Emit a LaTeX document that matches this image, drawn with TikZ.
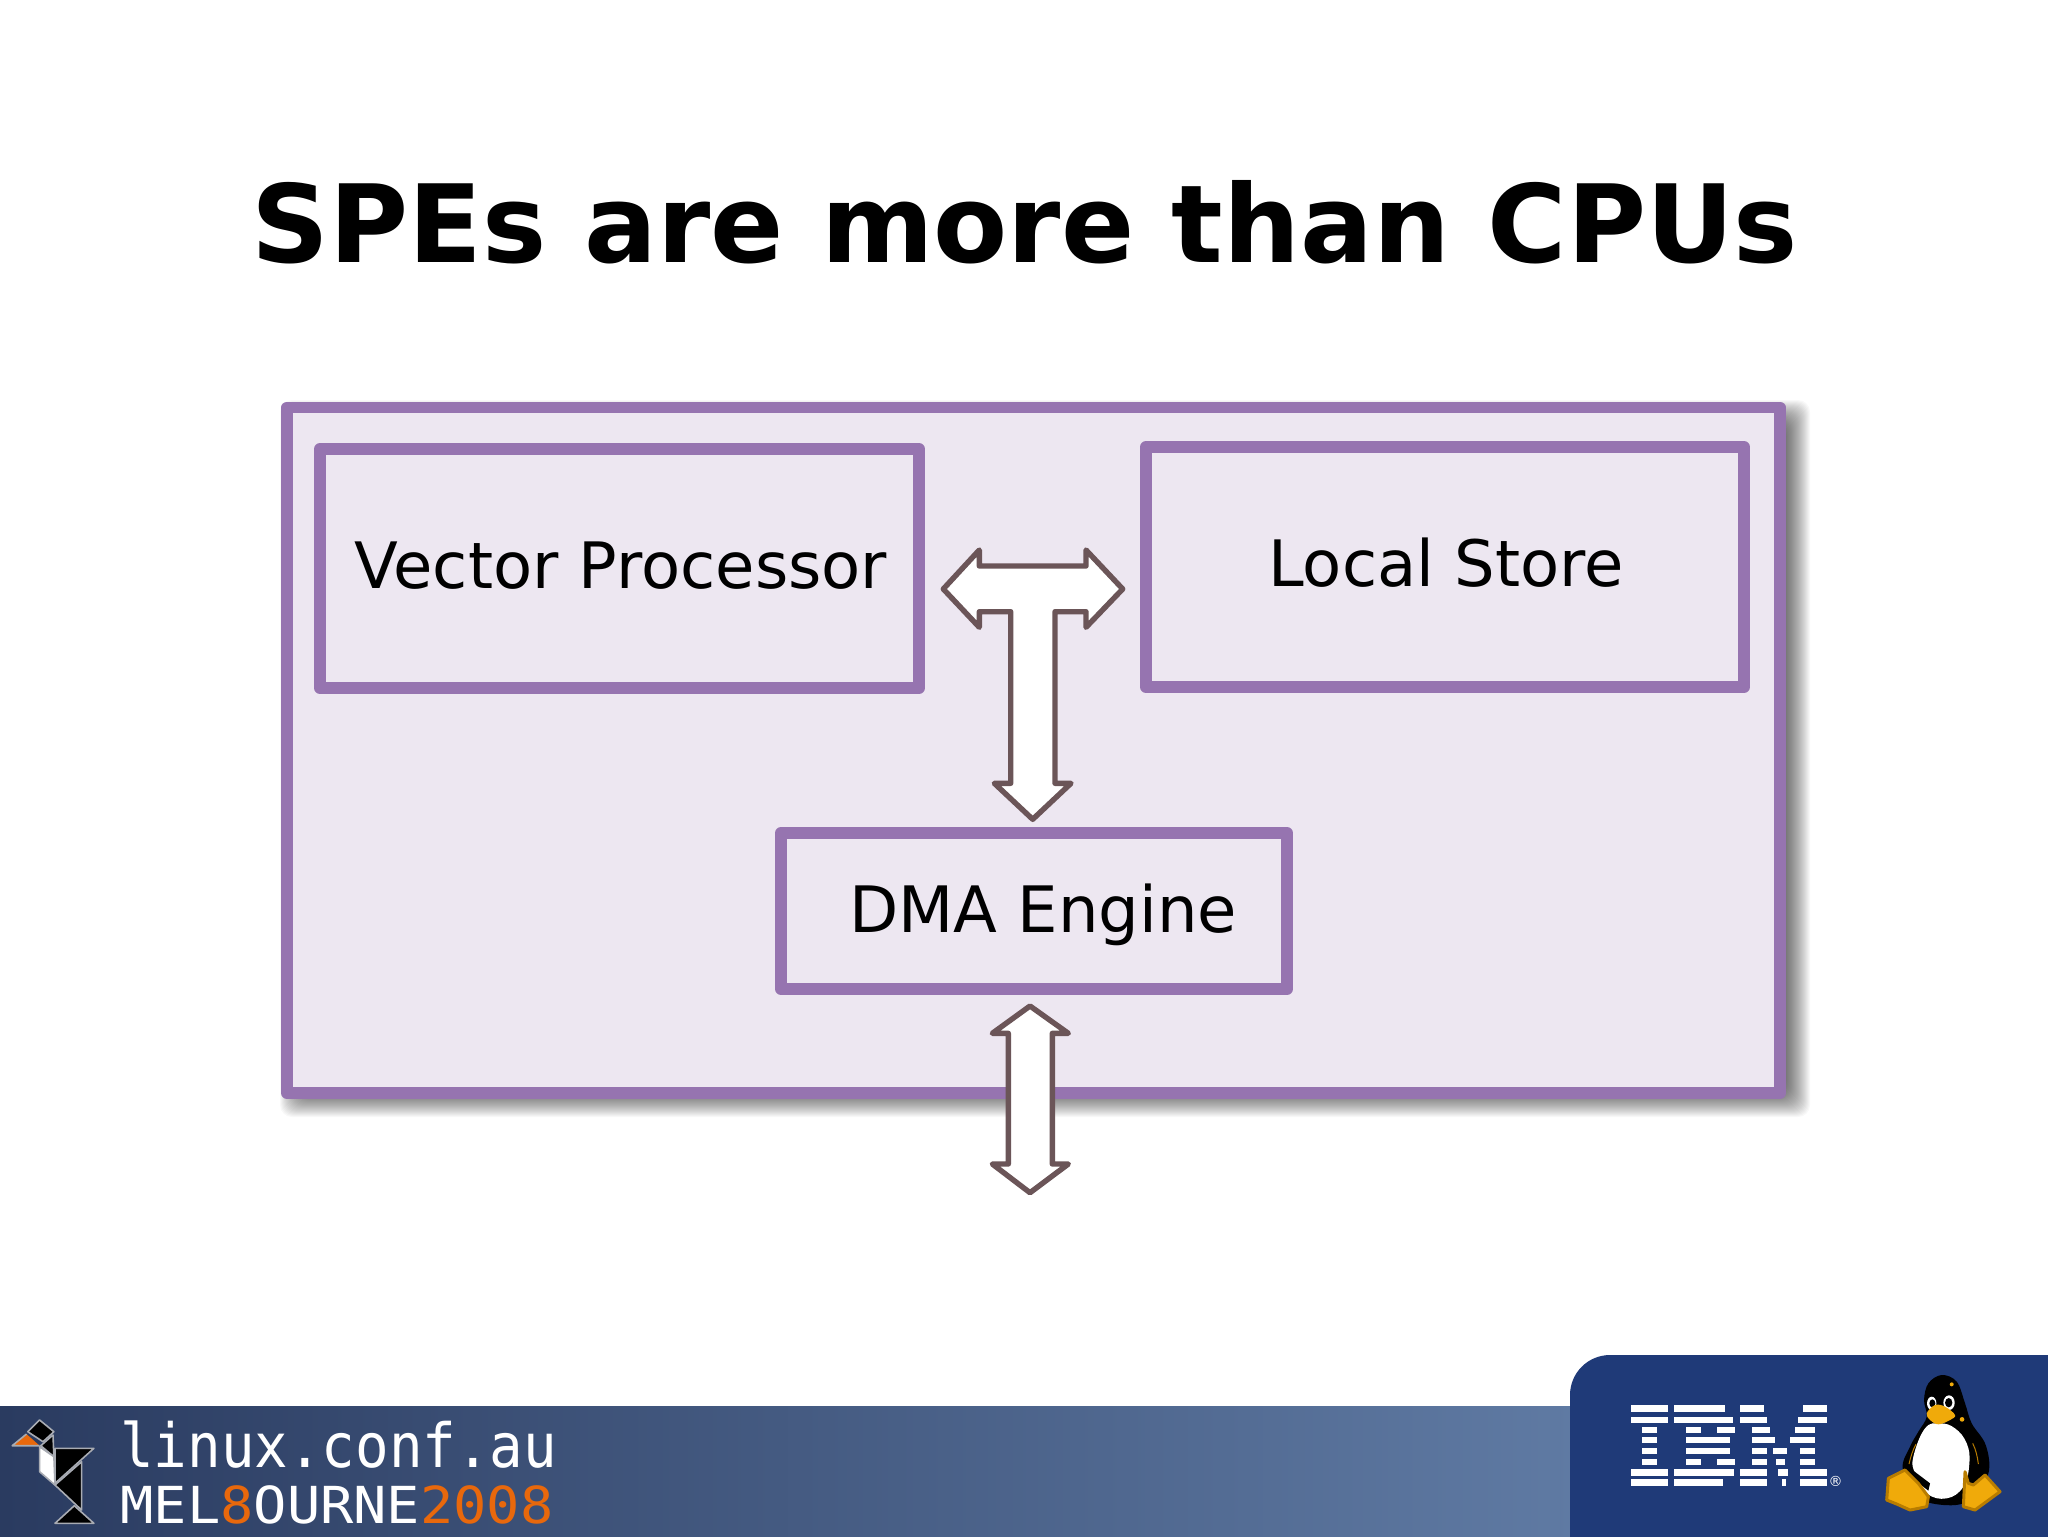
\documentclass[tikz,border=0pt]{standalone}
\usepackage{fontspec}
\setmainfont{DejaVu Sans}
\newfontfamily\footmono{DejaVu Sans Mono}
\definecolor{boxpurple}{HTML}{9674B0}
\definecolor{boxfill}{HTML}{EDE7F1}
\definecolor{arrowline}{HTML}{6B5558}
\definecolor{footorange}{HTML}{E8680C}
\definecolor{ibmblue}{HTML}{1F3A78}
\definecolor{bandleft}{HTML}{2A3B60}
\definecolor{bandmid}{HTML}{3F5078}
\definecolor{bandright}{HTML}{5F7AA3}
\definecolor{tuxgold}{HTML}{F0AA0A}
\definecolor{tuxedge}{HTML}{B87C00}
\definecolor{birdgrey}{HTML}{A8ABB2}
\tikzset{
  pbox/.style={draw=boxpurple,fill=boxfill,line width=5.8pt,line join=round,inner sep=0pt,outer sep=0pt},
  boxlabel/.style={anchor=base,font=\fontsize{32}{38}\selectfont,text=black,inner sep=0pt},
  bigarrow/.style={draw=arrowline,fill=white,line width=2.7pt,line join=round},
  foottext/.style={anchor=base west,inner sep=0pt,xscale=0.915,transform shape,font=\footmono\fontsize{30.5}{36}\selectfont},
  foottexttwo/.style={anchor=base west,inner sep=0pt,xscale=1.085,transform shape,font=\footmono\fontsize{25.5}{30}\selectfont},
  bird/.style={draw=birdgrey,line width=0.8pt,line join=round},
  tuxfoot/.style={draw=tuxedge,line width=1.5pt,fill=tuxgold,line join=round}
}
\newcommand{\ibmrow}[3]{\fill[white] (#1,#3-2) rectangle (#2,#3+17);}
\begin{document}
\begin{tikzpicture}[x=0.5pt,y=-0.5pt]
\useasboundingbox (0,0) rectangle (2048,1536);
\fill[white] (0,0) rectangle (2048,1536);
% title
\node[anchor=base,inner sep=0pt,font=\bfseries\fontsize{54}{62}\selectfont] (title) at (1025,262) {SPEs are more than CPUs};
% shadow
\foreach \d in {20,19,...,-4}{
  \fill[black,opacity=0.028,rounded corners=6pt] (300-\d,420-\d) rectangle (1790+\d,1097+\d);
}
% boxes
\node[pbox,minimum width=746.5pt,minimum height=342.75pt] (spe) at (1033.5,750.25) {};
\node[pbox,minimum width=299.5pt,minimum height=119.5pt] (vec) at (619.5,568.5) {};
\node[pbox,minimum width=299pt,minimum height=120pt] (ls) at (1445,567) {};
\node[pbox,minimum width=253pt,minimum height=78pt] (dma) at (1034,911) {};
\node[boxlabel] (veclabel) at (621,588) {Vector Processor};
\node[boxlabel] (lslabel) at (1446,586) {Local Store};
\node[boxlabel] (dmalabel) at (1043,932) {DMA Engine};
% T arrow
\draw[bigarrow] (943.3,589) -- (979.3,550) -- (979.3,566) -- (1086,566) -- (1086,550) -- (1122.7,589) -- (1086,627.3) -- (1086,611.7) -- (1055,611.7) -- (1055,783.3) -- (1071,783.3) -- (1032.7,819.3) -- (994.3,783.3) -- (1010.7,783.3) -- (1010.7,611.7) -- (979.3,611.7) -- (979.3,627.3) -- cycle;
% lower arrow
\draw[bigarrow] (1030,1006) -- (1068.3,1033.3) -- (1052.3,1033.3) -- (1052.3,1164) -- (1068.3,1164) -- (1030,1192.7) -- (992.3,1164) -- (1008.3,1164) -- (1008.3,1033.3) -- (992.3,1033.3) -- cycle;
% footer band
\shade[left color=bandleft,middle color=bandmid,right color=bandright] (0,1406.5) rectangle (1575,1536);
% footer text
\node[foottext,text=white] (lca) at (120,1467) {linux.conf.au};
\node[foottexttwo,text=white] (mel) at (120,1523) {MEL{\color{footorange}8}OURNE{\color{footorange}2008}};
% bird
\fill[footorange] (26.5,1434) -- (12.2,1445.7) -- (39.6,1445.7) -- cycle;
\draw[bird] (26.5,1434) -- (12.2,1445.7) -- (39.6,1445.7);
\draw[bird,fill=black] (39.6,1420) -- (53.9,1431.7) -- (43,1441.7) -- (27.8,1431.7) -- cycle;
\draw[bird,fill=black] (40.8,1445.7) -- (53,1435) -- (53.9,1456.7) -- cycle;
\draw[bird,fill=white] (39.6,1446.7) -- (53.9,1456.7) -- (55,1485) -- (39.6,1471.7) -- cycle;
\draw[bird,fill=black] (55,1448.3) -- (93.9,1448.3) -- (55,1483.3) -- cycle;
\draw[bird,fill=black] (81.6,1461.7) -- (81.6,1510) -- (55,1485) -- cycle;
\draw[bird,fill=black] (55,1523.3) -- (93.9,1523.3) -- (74.3,1505.7) -- cycle;
% IBM panel
\fill[ibmblue,rounded corners=20pt] (1570,1600) -- (1570,1355) -- (2100,1355) -- (2100,1600) -- cycle;
\begin{scope}[shift={(1540,1340)},x=0.16667pt,y=-0.16667pt]
  % I
  \foreach \y in {198,232,390,420}{\ibmrow{272}{385}{\y}}
  \foreach \y in {262,293,325,358}{\ibmrow{305}{352}{\y}}
  % B
  \ibmrow{403}{555}{198}\ibmrow{403}{580}{232}
  \ibmrow{437}{483}{262}\ibmrow{532}{585}{262}
  \ibmrow{437}{570}{293}\ibmrow{437}{570}{325}
  \ibmrow{437}{483}{358}\ibmrow{532}{585}{358}
  \ibmrow{403}{582}{390}\ibmrow{403}{550}{420}
  % M
  \ibmrow{600}{672}{198}\ibmrow{790}{860}{198}
  \ibmrow{600}{680}{232}\ibmrow{775}{860}{232}
  \ibmrow{635}{690}{262}\ibmrow{765}{825}{262}
  \ibmrow{635}{705}{293}\ibmrow{750}{825}{293}
  \ibmrow{635}{680}{325}\ibmrow{700}{740}{325}\ibmrow{780}{825}{325}
  \ibmrow{635}{680}{358}\ibmrow{708}{735}{358}\ibmrow{780}{825}{358}
  \ibmrow{600}{680}{390}\ibmrow{715}{745}{390}\ibmrow{780}{860}{390}
  \ibmrow{600}{680}{420}\ibmrow{725}{737}{420}\ibmrow{780}{860}{420}
  \node[text=white,inner sep=0pt,font=\fontsize{7}{8}\selectfont] (regmark) at (887,425) {®};
  % penguin
  \fill[black] plot[smooth cycle,tension=0.6] coordinates {(1205,105) (1165,130) (1152,180) (1160,230) (1135,275) (1110,320) (1088,385) (1130,460) (1175,490) (1270,490) (1330,430) (1348,380) (1335,310) (1295,250) (1275,190) (1250,125)};
  \fill[white] plot[smooth cycle,tension=0.7] coordinates {(1155,265) (1120,350) (1125,400) (1160,460) (1220,475) (1270,440) (1288,370) (1280,310) (1245,265) (1200,250)};
  \fill[black] (1120,392) -- (1170,430) -- (1165,452) -- (1130,425) -- cycle;
  \draw[tuxedge,line width=0.5pt] (1107,372) .. controls (1112,350) and (1118,330) .. (1128,312);
  \draw[tuxedge,line width=0.5pt] (1315,372) .. controls (1312,350) and (1308,330) .. (1298,310);
  \fill[white] (1175,190) ellipse [x radius=14,y radius=20];
  \fill[white] (1227,188) ellipse [x radius=17,y radius=22];
  \fill[black] (1177,190) ellipse [x radius=9,y radius=12];
  \fill[black] (1226,188) ellipse [x radius=11,y radius=14];
  \fill[tuxgold] plot[smooth cycle,tension=0.6] coordinates {(1160,220) (1185,195) (1215,200) (1245,225) (1230,240) (1195,253) (1170,240)};
  \fill[tuxgold] (1235,133) circle (6);
  \fill[tuxgold] (1266,238) circle (7);
  \draw[tuxfoot] (1045,415) -- (1095,390) -- (1135,430) -- (1165,470) -- (1160,500) -- (1110,510) -- (1070,492) -- (1040,480) -- cycle;
  \draw[tuxfoot] (1275,395) -- (1285,430) -- (1300,435) -- (1335,405) -- (1380,455) -- (1305,510) -- (1270,500) -- cycle;
\end{scope}
\end{tikzpicture}
\end{document}
